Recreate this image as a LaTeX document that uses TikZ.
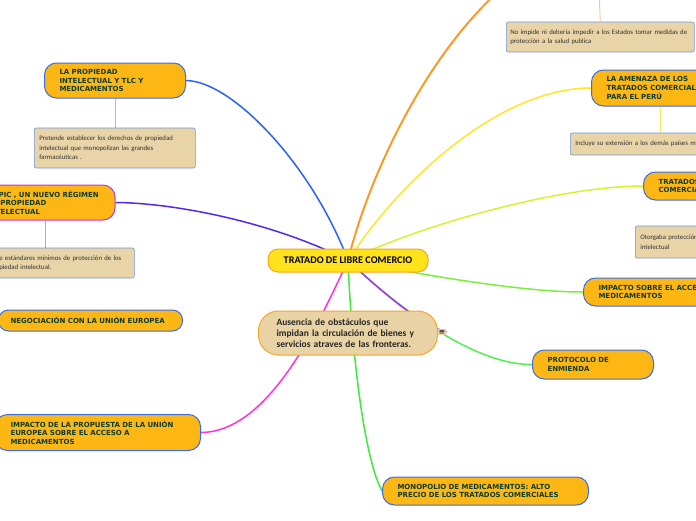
\documentclass[tikz,border=0pt]{standalone}
\usepackage{fontspec}
\setmainfont{Carlito}
\newfontfamily\capsfont{DejaVu Sans}
\pgfdeclarelayer{bg}
\pgfsetlayers{bg,main}
\definecolor{topicfill}{RGB}{252,183,20}
\definecolor{topicline}{RGB}{58,108,230}
\definecolor{topicpink}{RGB}{200,50,220}
\definecolor{topictext}{RGB}{15,60,40}
\definecolor{centrefill}{RGB}{255,226,26}
\definecolor{centreline}{RGB}{246,166,35}
\definecolor{ausfill}{RGB}{233,211,165}
\definecolor{notefill}{RGB}{232,212,166}
\definecolor{noteline}{RGB}{110,150,225}
\definecolor{notetext}{RGB}{50,50,50}
\definecolor{cblue}{RGB}{40,100,250}
\definecolor{cindigo}{RGB}{85,40,240}
\definecolor{corange}{RGB}{255,150,30}
\definecolor{cyellow}{RGB}{255,230,40}
\definecolor{cyelgreen}{RGB}{210,245,50}
\definecolor{cgreena}{RGB}{120,240,60}
\definecolor{cgreenb}{RGB}{80,240,80}
\definecolor{cgreenc}{RGB}{60,235,60}
\definecolor{cviolet}{RGB}{170,50,240}
\definecolor{cmagenta}{RGB}{255,50,220}
\tikzset{
  topic/.style={
    anchor=west,
    draw=topicline,
    fill=topicfill,
    line width=1pt,
    rounded corners=12pt,
    inner xsep=15pt,
    inner ysep=0pt,
    align=left,
    text=topictext,
    font=\capsfont\bfseries\fontsize{7}{8.6}\selectfont
  },
  centre-topic/.style={
    draw=centreline,
    fill=centrefill,
    line width=1pt,
    rounded corners=10pt,
    minimum width=160pt,
    minimum height=23pt,
    font=\bfseries\fontsize{10.2}{12}\selectfont
  },
  sub-topic/.style={
    anchor=west,
    draw=centreline,
    fill=ausfill,
    line width=1pt,
    rounded corners=20pt,
    inner xsep=18pt,
    align=left,
    text=black!85,
    font=\bfseries\fontsize{9.5}{11}\selectfont
  },
  menu-icon/.style={fill=ausfill, inner sep=1.2pt, font=\capsfont\fontsize{7.5}{7.5}\selectfont},
  note-box/.style={
    anchor=west,
    draw=noteline,
    fill=notefill,
    line width=0.6pt,
    rounded corners=2pt,
    inner xsep=5pt,
    align=left,
    text=notetext,
    font=\fontsize{6.8}{9.5}\selectfont
  },
  link/.style={line width=1.5pt},
  note-link/.style={line width=0.9pt}
}

\begin{document}
\begin{tikzpicture}[x=1pt, y=-1pt]
  \useasboundingbox (0,0) rectangle (696,520);
  \clip (0,0) rectangle (696,520);
  % Central topic
  \node[centre-topic] (centre) at (348,260.5) {TRATADO DE LIBRE COMERCIO};
  \node[sub-topic, text width=143pt, minimum height=44pt] (ausen) at (258,333)
    {Ausencia de obstáculos que\\impidan la circulación de bienes y\\servicios atraves de las fronteras.};
  \node[menu-icon] (ausmenu) at (442,332) {≡};
  % Left branch
  \node[topic, text width=111pt, minimum height=35pt] (prop) at (44,80.5)
    {LA PROPIEDAD\\INTELECTUAL Y TLC Y\\MEDICAMENTOS};
  \node[topic, draw=topicpink, inner xsep=11.5pt, text width=116pt, minimum height=35pt] (adpic) at (-24.5,202.5)
    {ADPIC , UN NUEVO RÉGIMEN\\DE PROPIEDAD\\INTELECTUAL};
  \node[topic, rounded corners=10pt, inner xsep=12pt, text width=160pt, minimum height=21pt] (negoc) at (-2,320.5)
    {NEGOCIACIÓN CON LA UNIÓN EUROPEA};
  \node[topic, text width=175pt, minimum height=36pt] (impue) at (-5,432.5)
    {IMPACTO DE LA PROPUESTA DE LA UNIÓN\\EUROPEA SOBRE EL ACCESO A\\MEDICAMENTOS};
  % Right branch
  \node[topic, text width=108pt, minimum height=36pt] (amena) at (591,88)
    {LA AMENAZA DE LOS\\TRATADOS COMERCIALES\\PARA EL PERÚ};
  \node[topic, text width=100pt, minimum height=28pt] (tratad) at (643,186)
    {TRATADOS\\COMERCIALES};
  \node[topic, text width=140pt, minimum height=28pt] (impacc) at (583,292)
    {IMPACTO SOBRE EL ACCESO A\\MEDICAMENTOS};
  \node[topic, text width=91pt, minimum height=29pt] (protoc) at (532,364.5)
    {PROTOCOLO DE\\ENMIENDA};
  \node[topic, text width=176pt, minimum height=28pt] (monop) at (382,491)
    {MONOPOLIO DE MEDICAMENTOS: ALTO\\PRECIO DE LOS TRATADOS COMERCIALES};
  % Notes
  \node[note-box, text width=151pt, minimum height=40pt] (propnote) at (34,148)
    {Pretende establecer los derechos de propiedad\\intelectual que monopolizan las grandes\\farmacéuticas .};
  \node[note-box, text width=130pt, minimum height=30pt] (adpicnote) at (-6,263)
    {e estándares mínimos de protección de los\\piedad intelectual.};
  \node[note-box, inner xsep=4pt, text width=180pt, minimum height=30pt] (topnote) at (506,37)
    {No impide ni debería impedir a los Estados tomar medidas de\\protección a la salud publica};
  \node[note-box, text width=190pt, minimum height=22pt] (amennote) at (570,144)
    {Incluye su extensión a los demás países miembros};
  \node[note-box, text width=140pt, minimum height=32pt] (otornote) at (635,242)
    {Otorgaba protección a la propiedad\\intelectual};
  % Ends above the page
  \coordinate (hidtop) at (540,-40);
  \coordinate (hidtopnote) at (599,-10);
  % Connectors
  \begin{pgfonlayer}{bg}
    \fill[white] (0,0) rectangle (696,520);
    \draw[link, cblue] (centre.center) .. controls (312,165) and (232,81) .. (prop.east);
    \draw[link, cindigo] (centre.center) .. controls (280,225) and (180,203) .. (adpic.east);
    \draw[link, corange, line width=1.9pt] (centre.center) .. controls (370,170) and (440,20) .. (hidtop);
    \draw[link, cyellow] (centre.center) .. controls (400,180) and (500,88) .. (amena.west);
    \draw[link, cyelgreen] (centre.center) .. controls (420,225) and (560,186) .. (tratad.west);
    \draw[link, cgreena] (centre.center) .. controls (450,280) and (530,292) .. (impacc.west);
    \draw[link, cgreenb] (centre.center) .. controls (390,300) and (470,365) .. (protoc.west);
    \draw[link, cviolet] (centre.center) .. controls (380,290) and (420,325) .. (ausmenu.east);
    \draw[link, cmagenta] (centre.center) .. controls (320,320) and (270,432) .. (impue.east);
    \draw[link, cgreenc] (centre.center) .. controls (352,360) and (365,460) .. (monop.west);
    % Note links
    \draw[note-link, cblue!45] (prop.south) -- (prop.south |- propnote.north);
    \draw[note-link, cindigo!45] (adpic.south) -- (adpic.south |- adpicnote.north);
    \draw[note-link, corange!55] (topnote.north) -- (hidtopnote);
    \draw[note-link, cyellow!80] (amena.south) -- (amena.south |- amennote.north);
  \end{pgfonlayer}
\end{tikzpicture}
\end{document}
